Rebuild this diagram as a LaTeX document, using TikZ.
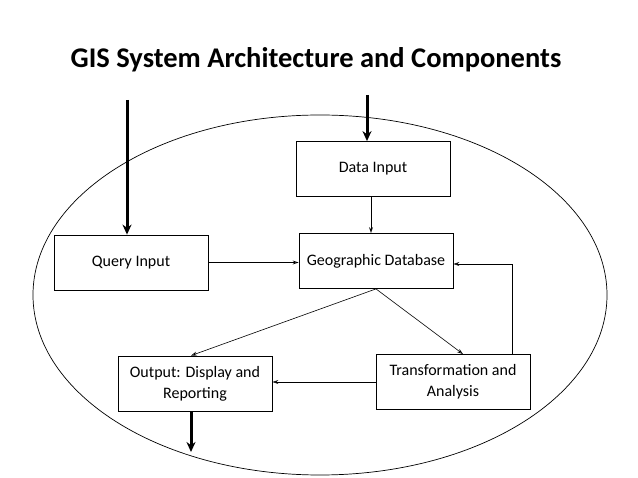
\documentclass[tikz,border=0pt]{standalone}
\usepackage{fontspec}
\setmainfont{Carlito}
\usetikzlibrary{arrows.meta}
\begin{document}
\begin{tikzpicture}[x=1pt,y=-1pt,
  box/.style={draw,thick,minimum width=154pt,minimum height=55pt,align=center,font=\fontsize{16}{21}\selectfont,inner sep=2pt},
  con/.style={-{Stealth[length=6pt,width=4pt,open]},line width=0.6pt},
  big/.style={line width=3pt,-{Stealth[length=10pt,width=9pt]}}]
\useasboundingbox (0,0) rectangle (638,478);
\node[font=\bfseries\fontsize{28.5}{32}\selectfont] (title) at (316,60) {GIS System Architecture and Components};
\draw[line width=0.7pt] (320,295) ellipse [x radius=287, y radius=180];
\node[box] (data) at (373,169) {Data Input};
\node[box] (query) at (131,262.5) {Query Input};
\node[box] (geo) at (376,261) {Geographic Database};
\node[box] (out) at (195,383.5) {Output: Display and\\Reporting};
\node[box] (trans) at (453,382) {Transformation and\\Analysis};
\coordinate (q0) at (127,100);
\coordinate (d0) at (367,95);
\coordinate (o1) at (191,452);
\draw[big] (q0) -- (q0 |- query.north);
\draw[big] (d0) -- (d0 |- data.north);
\draw[big] (out.south -| o1) -- (o1);
\draw[con] (data.south -| 371,0) -- (geo.north -| 371,0);
\draw[con] (query.east) -- (geo.west |- query.east);
\draw[con] (geo.south) -- (out.north -| 191,0);
\draw[con] (geo.south) -- (trans.north -| 463,0);
\draw[con] (trans.west) -- (out.east |- trans.west);
\draw[con] (trans.north -| 512,0) -- (512,264) -- (geo.east |- 0,264);
\end{tikzpicture}
\end{document}
